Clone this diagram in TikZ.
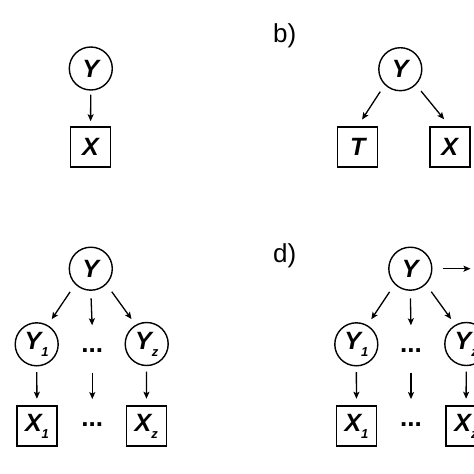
\documentclass[tikz,border=0pt]{standalone}
\usepackage{fontspec}
\setmainfont{Liberation Sans}
\usetikzlibrary{arrows.meta}
\tikzset{
  latent/.style={circle, draw, line width=1.4pt, minimum size=43pt, inner sep=0pt,
    font=\fontsize{25}{25}\selectfont\bfseries\itshape},
  observed/.style={rectangle, draw, line width=1.5pt, minimum size=40pt, inner sep=0pt,
    font=\fontsize{25}{25}\selectfont\bfseries\itshape},
  ellip/.style={inner sep=0pt, minimum height=43pt, font=\fontsize{26}{26}\selectfont\bfseries},
  ellipbox/.style={inner sep=0pt, minimum height=40pt, font=\fontsize{26}{26}\selectfont\bfseries},
  panel/.style={anchor=base west, inner sep=0pt, font=\fontsize{26}{26}\selectfont},
  arr/.style={line width=1.3pt, -{Stealth[length=7pt,width=6pt,inset=1.5pt]}},
}
\newcommand{\subsc}[1]{\raisebox{-7pt}{\fontsize{13}{13}\selectfont #1}}
\begin{document}
\begin{tikzpicture}[x=1pt,y=-1pt]
\useasboundingbox (0,0) rectangle (474,474);
\clip (0,0) rectangle (474,474);
% panel a
\node[latent] (aY) at (90.8,68.5) {Y};
\node[observed] (aX) at (90.5,147) {X};
\draw[arr, shorten <=4pt, shorten >=5pt] (aY) -- (aX);
% panel b
\node[panel] (lb) at (273,42.7) {b)};
\node[latent] (bY) at (400.3,69.2) {Y};
\node[observed] (bT) at (357.7,147) {T};
\node[observed] (bX) at (449.8,147) {X};
\draw[arr, shorten <=8pt, shorten >=8pt] (bY.south west) -- (bT.north);
\draw[arr, shorten <=8pt, shorten >=9pt] (bY.south east) -- (bX.north);
% panel c
\node[latent] (cY) at (90.8,268.7) {Y};
\node[latent] (cY1) at (36.7,344.3) {Y\subsc{1}};
\node[ellip] (cD1) at (92.3,351) {...};
\node[latent] (cYz) at (146.7,344) {Y\subsc{z}};
\node[observed] (cX1) at (37,426) {X\subsc{1}};
\node[ellipbox] (cD2) at (92.3,424.3) {...};
\node[observed] (cXz) at (146.3,426) {X\subsc{z}};
\draw[arr, shorten <=9pt, shorten >=7pt] (cY.-135) -- (cY1.60);
\draw[arr, shorten <=7.5pt, shorten >=4pt] (cY.south) -- (cD1.north);
\draw[arr, shorten <=9pt, shorten >=7pt] (cY.-45) -- (cYz.120);
\draw[arr, shorten <=5.5pt, shorten >=6.5pt] (cY1) -- (cX1);
\draw[arr, shorten >=5pt] (cD1) -- (cD2);
\draw[arr, shorten <=5.5pt, shorten >=6.5pt] (cYz) -- (cXz);
% panel d
\node[panel] (ld) at (273,262) {d)};
\node[latent] (dY) at (410.3,268.7) {Y};
\node[latent] (dY1) at (356.3,344.3) {Y\subsc{1}};
\node[ellip] (dD1) at (411,351) {...};
\node[latent] (dYz) at (466.3,344) {Y\subsc{z}};
\node[observed] (dX1) at (356.5,426) {X\subsc{1}};
\node[ellipbox] (dD2) at (411,424.3) {...};
\node[observed] (dXz) at (466,426) {X\subsc{z}};
\coordinate (dOut) at (470.5,268.7);
\draw[arr, shorten <=10pt] (dY.east) -- (dOut);
\draw[arr, shorten <=9pt, shorten >=7pt] (dY.-135) -- (dY1.60);
\draw[arr, shorten <=7.5pt, shorten >=4pt] (dY.south) -- (dD1.north);
\draw[arr, shorten <=9pt, shorten >=7pt] (dY.-45) -- (dYz.120);
\draw[arr, shorten <=5.5pt, shorten >=6.5pt] (dY1) -- (dX1);
\draw[arr, shorten >=5pt] (dD1) -- (dD2);
\draw[arr, shorten <=5.5pt, shorten >=6.5pt] (dYz) -- (dXz);
\end{tikzpicture}
\end{document}
